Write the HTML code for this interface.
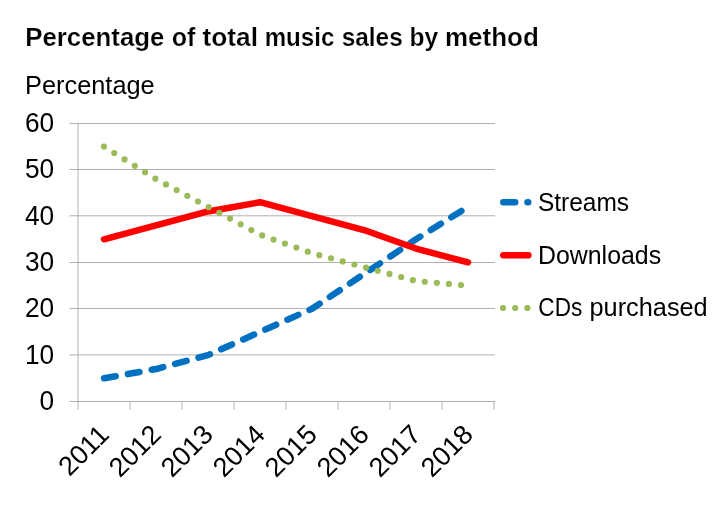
<!DOCTYPE html>
<html><head><meta charset="utf-8"><style>
html,body{margin:0;padding:0;background:#fff;width:726px;height:508px;overflow:hidden}
svg{display:block;will-change:transform}
text{font-family:"Liberation Sans",sans-serif;fill:#000}
.title{font-weight:bold;font-size:25.3px}
.ytitle{font-size:25.3px}
.ax{font-size:26.3px}
.xl{font-size:27px}
.lg{font-size:24.7px}
</style></head><body>
<svg width="726" height="508" viewBox="0 0 726 508">
<line x1="69.5" y1="123.5" x2="495" y2="123.5" stroke="#B0B0B0" stroke-width="1"/>
<line x1="69.5" y1="169.5" x2="495" y2="169.5" stroke="#B0B0B0" stroke-width="1"/>
<line x1="69.5" y1="215.8" x2="495" y2="215.8" stroke="#B0B0B0" stroke-width="1"/>
<line x1="69.5" y1="262.5" x2="495" y2="262.5" stroke="#B0B0B0" stroke-width="1"/>
<line x1="69.5" y1="308.5" x2="495" y2="308.5" stroke="#B0B0B0" stroke-width="1"/>
<line x1="69.5" y1="354.9" x2="495" y2="354.9" stroke="#B0B0B0" stroke-width="1"/>
<line x1="69.5" y1="401.5" x2="495" y2="401.5" stroke="#B0B0B0" stroke-width="1"/>
<line x1="78" y1="123" x2="78" y2="409.5" stroke="#B0B0B0" stroke-width="1"/>
<line x1="130.0" y1="401.5" x2="130.0" y2="409.5" stroke="#B0B0B0" stroke-width="1"/>
<line x1="182.0" y1="401.5" x2="182.0" y2="409.5" stroke="#B0B0B0" stroke-width="1"/>
<line x1="234.0" y1="401.5" x2="234.0" y2="409.5" stroke="#B0B0B0" stroke-width="1"/>
<line x1="286.0" y1="401.5" x2="286.0" y2="409.5" stroke="#B0B0B0" stroke-width="1"/>
<line x1="338.0" y1="401.5" x2="338.0" y2="409.5" stroke="#B0B0B0" stroke-width="1"/>
<line x1="390.0" y1="401.5" x2="390.0" y2="409.5" stroke="#B0B0B0" stroke-width="1"/>
<line x1="442.0" y1="401.5" x2="442.0" y2="409.5" stroke="#B0B0B0" stroke-width="1"/>
<line x1="494.0" y1="401.5" x2="494.0" y2="409.5" stroke="#B0B0B0" stroke-width="1"/>
<text transform="translate(54.2,132.3) scale(1,1.05)" text-anchor="end" class="ax">60</text>
<text transform="translate(54.2,178.3) scale(1,1.05)" text-anchor="end" class="ax">50</text>
<text transform="translate(54.2,224.8) scale(1,1.05)" text-anchor="end" class="ax">40</text>
<text transform="translate(54.2,271.3) scale(1,1.05)" text-anchor="end" class="ax">30</text>
<text transform="translate(54.2,317.3) scale(1,1.05)" text-anchor="end" class="ax">20</text>
<text transform="translate(54.2,363.8) scale(1,1.05)" text-anchor="end" class="ax">10</text>
<text transform="translate(54.2,410.3) scale(1,1.05)" text-anchor="end" class="ax">0</text>
<text transform="translate(97.0,422.5) rotate(-45)" text-anchor="end" dominant-baseline="hanging" class="xl">2011</text>
<text transform="translate(149.0,422.5) rotate(-45)" text-anchor="end" dominant-baseline="hanging" class="xl">2012</text>
<text transform="translate(201.0,422.5) rotate(-45)" text-anchor="end" dominant-baseline="hanging" class="xl">2013</text>
<text transform="translate(253.0,422.5) rotate(-45)" text-anchor="end" dominant-baseline="hanging" class="xl">2014</text>
<text transform="translate(305.0,422.5) rotate(-45)" text-anchor="end" dominant-baseline="hanging" class="xl">2015</text>
<text transform="translate(357.0,422.5) rotate(-45)" text-anchor="end" dominant-baseline="hanging" class="xl">2016</text>
<text transform="translate(409.0,422.5) rotate(-45)" text-anchor="end" dominant-baseline="hanging" class="xl">2017</text>
<text transform="translate(461.0,422.5) rotate(-45)" text-anchor="end" dominant-baseline="hanging" class="xl">2018</text>
<polyline points="104.00,378.28 156.00,369.02 208.00,355.12 260.00,331.95 312.00,308.78 364.00,274.03 416.00,239.28 468.00,206.85" fill="none" stroke="#0070C0" stroke-width="6.5" stroke-linecap="round" stroke-linejoin="round" stroke-dasharray="11.9 12.3"/>
<polyline points="104.00,239.28 156.00,225.38 208.00,211.48 260.00,202.22 312.00,216.12 364.00,230.02 416.00,248.55 468.00,262.45" fill="none" stroke="#FF0000" stroke-width="6.5" stroke-linecap="round" stroke-linejoin="round"/>
<polyline points="104.00,146.62 156.00,179.05 208.00,206.85 260.00,234.65 312.00,253.18 364.00,267.08 416.00,280.98 468.00,285.62" fill="none" stroke="#9BBB59" stroke-width="6.2" stroke-linecap="round" stroke-linejoin="round" stroke-dasharray="0 12.1"/>
<line x1="503.3" y1="202.3" x2="528.2" y2="202.3" stroke="#0070C0" stroke-width="6.5" stroke-linecap="round" stroke-dasharray="11.9 12.3"/>
<line x1="503.3" y1="255.3" x2="528.4" y2="255.3" stroke="#FF0000" stroke-width="6.5" stroke-linecap="round"/>
<line x1="503" y1="308" x2="527.5" y2="308" stroke="#9BBB59" stroke-width="6.2" stroke-linecap="round" stroke-dasharray="0 12.2"/>
<text transform="translate(25.25,46) scale(1.0199,1.0)" style="font-size:25.3px;font-weight:bold;stroke:#fff;stroke-width:0.2px">Percentage</text>
<text transform="translate(171.75,46) scale(0.9915,1.0)" style="font-size:25.3px;font-weight:bold;stroke:#fff;stroke-width:0.2px">of</text>
<text transform="translate(202.54,46) scale(1.0382,1.0)" style="font-size:25.3px;font-weight:bold;stroke:#fff;stroke-width:0.2px">total</text>
<text transform="translate(264.65,46) scale(0.9543,1.0)" style="font-size:25.3px;font-weight:bold;stroke:#fff;stroke-width:0.2px">music</text>
<text transform="translate(341.67,46) scale(0.9653,1.0)" style="font-size:25.3px;font-weight:bold;stroke:#fff;stroke-width:0.2px">sales</text>
<text transform="translate(409.53,46) scale(0.9714,1.0)" style="font-size:25.3px;font-weight:bold;stroke:#fff;stroke-width:0.2px">by</text>
<text transform="translate(445.04,46) scale(1.0261,1.0)" style="font-size:25.3px;font-weight:bold;stroke:#fff;stroke-width:0.2px">method</text>
<text transform="translate(25.07,94.0) scale(1.0019,1.0)" style="font-size:25.3px">Percentage</text>
<text transform="translate(537.92,211.0) scale(0.9919,1.06)" style="font-size:24.7px">Streams</text>
<text transform="translate(538.01,264.0) scale(1.0077,1.055)" style="font-size:24.7px">Downloads</text>
<text transform="translate(538.37,316.3) scale(0.9142,1.06)" style="font-size:24.7px">CDs</text>
<text transform="translate(589.48,316.3) scale(1.0251,1.06)" style="font-size:24.7px">purchased</text>
</svg>
</body></html>
